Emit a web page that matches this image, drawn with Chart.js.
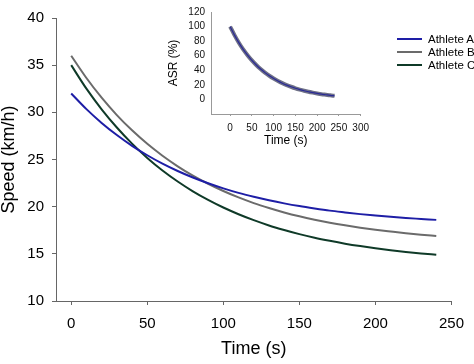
<!DOCTYPE html>
<html><head><meta charset="utf-8">
<script src="https://cdn.jsdelivr.net/npm/chart.js@4/dist/chart.umd.min.js"></script>
<style>
html,body{margin:0;padding:0;background:#fff;overflow:hidden;width:474px;height:364px;}
#wrap{position:relative;width:474px;height:364px;overflow:hidden;}
#main{position:absolute;left:0;top:0;}
#inset{position:absolute;left:165px;top:0;}
#legend{position:absolute;left:397px;top:32px;font:11.5px "Liberation Sans",Arial,sans-serif;color:#000;white-space:nowrap;}
.item{display:flex;align-items:center;height:13.3px;}
.sw{width:25px;height:2px;margin-right:6px;flex:none;}
</style></head>
<body><div id="wrap"><canvas id="main" width="474" height="364"></canvas><canvas id="inset" width="210" height="150"></canvas><div id="legend"></div></div>
<script>
const timeSec = [0,10,20,30,40,50,60,70,80,90,100,110,120,130,140,150,160,170,180,190,200,210,220,230,240];
const athleteA = [32.0,30.34,28.88,27.59,26.45,25.45,24.56,23.78,23.09,22.48,21.94,21.46,21.05,20.68,20.35,20.06,19.81,19.58,19.39,19.21,19.06,18.92,18.80,18.70,18.60];
const athleteB = [36.0,33.64,31.55,29.71,28.09,26.66,25.40,24.28,23.29,22.43,21.66,20.98,20.38,19.86,19.39,18.98,18.62,18.30,18.02,17.77,17.55,17.36,17.18,17.03,16.90];
const athleteC = [35.0,32.51,30.32,28.39,26.68,25.17,23.84,22.67,21.63,20.72,19.91,19.20,18.57,18.01,17.53,17.09,16.71,16.38,16.08,15.82,15.59,15.38,15.20,15.04,14.90];
const asrPct = [100,88.3,77.9,68.7,60.7,53.5,47.2,41.7,36.8,32.5,28.7,25.3,22.3,19.7,17.4,15.3,13.5,11.9,10.5,9.3,8.2,7.2,6.4,5.6,5.0];
const seriesLabels = ['Athlete A','Athlete B','Athlete C'];
const seriesColors = ['#1e1ea6','#6b6b6b','#0f3a28'];
const mainXTicks = [0,50,100,150,200,250];
const mainYTicks = [10,15,20,25,30,35,40];
const insetXTicks = [0,50,100,150,200,250,300];
const insetYTicks = [0,20,40,60,80,100,120];

const FONT = "'Liberation Sans', Arial, sans-serif";
const pts = (vals) => timeSec.map((t,i)=>({x:t,y:vals[i]}));
const seriesValues = [athleteA, athleteB, athleteC];

new Chart(document.getElementById('main'), {
  type:'line',
  data:{datasets: seriesLabels.map((l,i)=>({
    label:l, data:pts(seriesValues[i]), borderColor:seriesColors[i], borderWidth:2,
    pointRadius:0, fill:false, cubicInterpolationMode:'monotone'
  }))},
  options:{
    responsive:false, animation:false, devicePixelRatio:1,
    layout:{padding:{top:18,right:13,left:0,bottom:0}},
    plugins:{legend:{display:false}, tooltip:{enabled:false}},
    scales:{
      x:{type:'linear', min:-10, max:250,
        afterBuildTicks:s=>{s.ticks = mainXTicks.map(v=>({value:v}));},
        ticks:{font:{family:FONT,size:15}, color:'#000', padding:10, maxRotation:0, autoSkip:false},
        grid:{drawOnChartArea:false, drawTicks:true, tickLength:4, color:'#666'},
        border:{color:'#666', width:1},
        title:{display:true, text:'Time (s)', font:{family:FONT,size:18,lineHeight:1}, color:'#000', padding:{top:0,bottom:6}},
        afterFit:s=>{s.height=63;}
      },
      y:{type:'linear', min:10, max:40,
        afterBuildTicks:s=>{s.ticks = mainYTicks.map(v=>({value:v}));},
        ticks:{font:{family:FONT,size:15}, color:'#000', padding:8, autoSkip:false},
        grid:{drawOnChartArea:false, drawTicks:true, tickLength:4, color:'#666'},
        border:{color:'#666', width:1},
        title:{display:true, text:'Speed (km/h)', font:{family:FONT,size:18,lineHeight:1}, color:'#000', padding:{top:0,bottom:0}},
        afterFit:s=>{s.width=56;}
      }
    }
  }
});

new Chart(document.getElementById('inset'), {
  type:'line',
  data:{datasets:[
    {label:'ASR', data:pts(asrPct), borderColor:'#2a2a96', borderWidth:1.2, pointRadius:0, fill:false, cubicInterpolationMode:'monotone'},
    {label:'ASR band', data:pts(asrPct), borderColor:'#6e7086', borderWidth:4, pointRadius:0, fill:false, cubicInterpolationMode:'monotone'}
  ]},
  options:{
    responsive:false, animation:false, devicePixelRatio:1,
    layout:{padding:{top:3,right:8,left:0,bottom:0}},
    plugins:{legend:{display:false}, tooltip:{enabled:false}},
    scales:{
      x:{type:'linear', min:-44, max:300,
        afterBuildTicks:s=>{s.ticks = insetXTicks.map(v=>({value:v}));},
        ticks:{font:{family:FONT,size:10}, color:'#111', padding:6, maxRotation:0, autoSkip:false},
        grid:{drawOnChartArea:false, drawTicks:true, tickLength:2, color:'#999'},
        border:{color:'#999', width:1},
        title:{display:true, text:'Time (s)', font:{family:FONT,size:12,lineHeight:1}, color:'#000', padding:{top:0,bottom:3}},
        afterFit:s=>{s.height=36;}
      },
      y:{type:'linear', min:-20, max:120,
        afterBuildTicks:s=>{s.ticks = insetYTicks.map(v=>({value:v}));},
        ticks:{font:{family:FONT,size:10}, color:'#111', padding:6, autoSkip:false},
        grid:{drawOnChartArea:false, drawTicks:false, color:'#999'},
        border:{color:'#999', width:1},
        title:{display:true, text:'ASR (%)', font:{family:FONT,size:12,lineHeight:1}, color:'#000', padding:{top:3,bottom:0}},
        afterFit:s=>{s.width=46;}
      }
    }
  }
});

const lg = document.getElementById('legend');
seriesLabels.forEach((l,i)=>{
  const d = document.createElement('div'); d.className='item';
  const sw = document.createElement('span'); sw.className='sw'; sw.style.background=seriesColors[i];
  const tx = document.createElement('span'); tx.textContent=l;
  d.appendChild(sw); d.appendChild(tx); lg.appendChild(d);
});
</script>
</body></html>
